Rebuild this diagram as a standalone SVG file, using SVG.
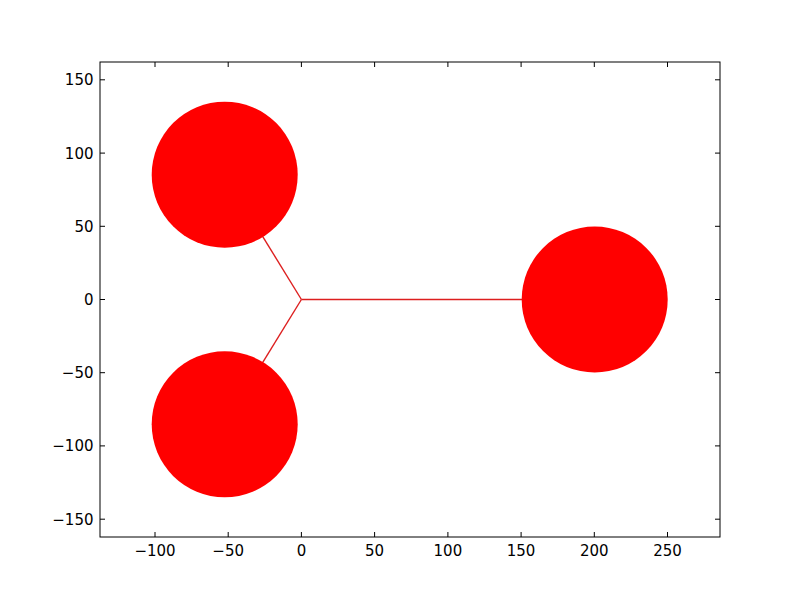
<svg xmlns="http://www.w3.org/2000/svg" width="800" height="600" viewBox="0 0 800 600">
<style>
.lbl{font-family:"DejaVu Sans",sans-serif;font-size:15px;fill:#000}
.xl{text-anchor:middle}
.yl{text-anchor:end}
.tick{stroke:#000;stroke-width:1}
.node{fill:#ff0000;stroke:none}
.edge{stroke:#dd1f1f;stroke-width:1.4;fill:none}
</style>
<rect x="0" y="0" width="800" height="600" fill="#fff"/>
<g id="connectors">
<line class="edge" x1="301.4" y1="299.5" x2="224.7" y2="174.7"/>
<line class="edge" x1="301.4" y1="299.5" x2="224.7" y2="424.3"/>
<line class="edge" x1="301.4" y1="299.5" x2="594.7" y2="299.5"/>
</g>
<g id="node1"><circle class="node" cx="224.7" cy="174.7" r="73"/></g>
<g id="node2"><circle class="node" cx="224.7" cy="424.3" r="73"/></g>
<g id="node3"><circle class="node" cx="594.7" cy="299.5" r="73"/></g>
<g id="axes">
<rect x="100" y="62" width="620" height="475" fill="none" stroke="#000" stroke-width="1"/>
<g class="tick">
<path d="M155 537v-5M228.2 537v-5M301.4 537v-5M374.6 537v-5M447.9 537v-5M521.1 537v-5M594.3 537v-5M667.5 537v-5"/>
<path d="M155 62v5M228.2 62v5M301.4 62v5M374.6 62v5M447.9 62v5M521.1 62v5M594.3 62v5M667.5 62v5"/>
<path d="M100 79.8h5M100 153.1h5M100 226.3h5M100 299.5h5M100 372.7h5M100 445.9h5M100 519.2h5"/>
<path d="M720 79.8h-5M720 153.1h-5M720 226.3h-5M720 299.5h-5M720 372.7h-5M720 445.9h-5M720 519.2h-5"/>
</g>
<g class="lbl xl">
<text x="155" y="556">−100</text>
<text x="228.2" y="556">−50</text>
<text x="301.4" y="556">0</text>
<text x="374.6" y="556">50</text>
<text x="447.9" y="556">100</text>
<text x="521.1" y="556">150</text>
<text x="594.3" y="556">200</text>
<text x="667.5" y="556">250</text>
</g>
<g class="lbl yl">
<text x="93.5" y="85.3">150</text>
<text x="93.5" y="158.6">100</text>
<text x="93.5" y="231.8">50</text>
<text x="93.5" y="305">0</text>
<text x="93.5" y="378.2">−50</text>
<text x="93.5" y="451.4">−100</text>
<text x="93.5" y="524.7">−150</text>
</g>
</g>
</svg>
